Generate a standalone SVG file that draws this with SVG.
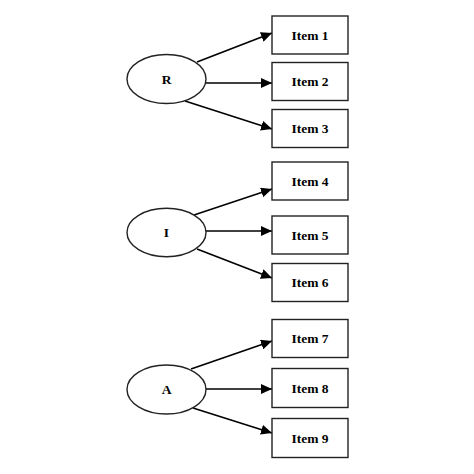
<svg xmlns="http://www.w3.org/2000/svg" width="474" height="474" viewBox="0 0 474 474">
<defs>
<style>
.box{fill:#fff;stroke:#222;stroke-width:1.4}
.ell{fill:#fff;stroke:#222;stroke-width:1.4}
.t{font-family:"Liberation Serif","Times New Roman",serif;font-weight:bold;font-size:13.5px;fill:#000;text-anchor:middle}
.c{stroke:#000;stroke-width:1.7;fill:none;marker-end:url(#ah)}
</style>
<marker id="ah" markerUnits="userSpaceOnUse" markerWidth="12" markerHeight="10" refX="11" refY="5" orient="auto">
<path d="M0,0 L11,5 L0,10 Z" fill="#000"/>
</marker>
</defs>
<rect width="474" height="474" fill="#fff"/>
<g id="connectors">
<line class="c" x1="197" y1="62" x2="272" y2="33"/>
<line class="c" x1="206" y1="83" x2="272" y2="83"/>
<line class="c" x1="185" y1="101" x2="272" y2="129"/>
<line class="c" x1="194" y1="215" x2="272" y2="189"/>
<line class="c" x1="206" y1="231" x2="272" y2="231"/>
<line class="c" x1="197" y1="249" x2="272" y2="278"/>
<line class="c" x1="191" y1="369" x2="272" y2="341"/>
<line class="c" x1="206" y1="389" x2="272" y2="389"/>
<line class="c" x1="193" y1="408" x2="272" y2="433"/>
</g>
<g id="R"><ellipse class="ell" cx="166.5" cy="79" rx="39.5" ry="24.5"/><text class="t" x="166.5" y="83.5">R</text></g>
<g id="I"><ellipse class="ell" cx="166.5" cy="232.5" rx="39.5" ry="24.2"/><text class="t" x="166.5" y="237">I</text></g>
<g id="A"><ellipse class="ell" cx="166.5" cy="389.5" rx="39.5" ry="24.5"/><text class="t" x="166.5" y="394">A</text></g>
<g id="item1"><rect class="box" x="272" y="16" width="76" height="38"/><text class="t" x="310" y="39.5">Item 1</text></g>
<g id="item2"><rect class="box" x="272" y="62.5" width="76" height="38"/><text class="t" x="310" y="86">Item 2</text></g>
<g id="item3"><rect class="box" x="272" y="109.5" width="76" height="38"/><text class="t" x="310" y="133">Item 3</text></g>
<g id="item4"><rect class="box" x="272" y="162" width="76" height="38"/><text class="t" x="310" y="185.5">Item 4</text></g>
<g id="item5"><rect class="box" x="272" y="216" width="76" height="38"/><text class="t" x="310" y="239.5">Item 5</text></g>
<g id="item6"><rect class="box" x="272" y="263.5" width="76" height="38"/><text class="t" x="310" y="287">Item 6</text></g>
<g id="item7"><rect class="box" x="272" y="319.5" width="76" height="38"/><text class="t" x="310" y="343">Item 7</text></g>
<g id="item8"><rect class="box" x="272" y="368.5" width="76" height="39"/><text class="t" x="310" y="392.5">Item 8</text></g>
<g id="item9"><rect class="box" x="272" y="418.5" width="76" height="39"/><text class="t" x="310" y="442.5">Item 9</text></g>
</svg>
